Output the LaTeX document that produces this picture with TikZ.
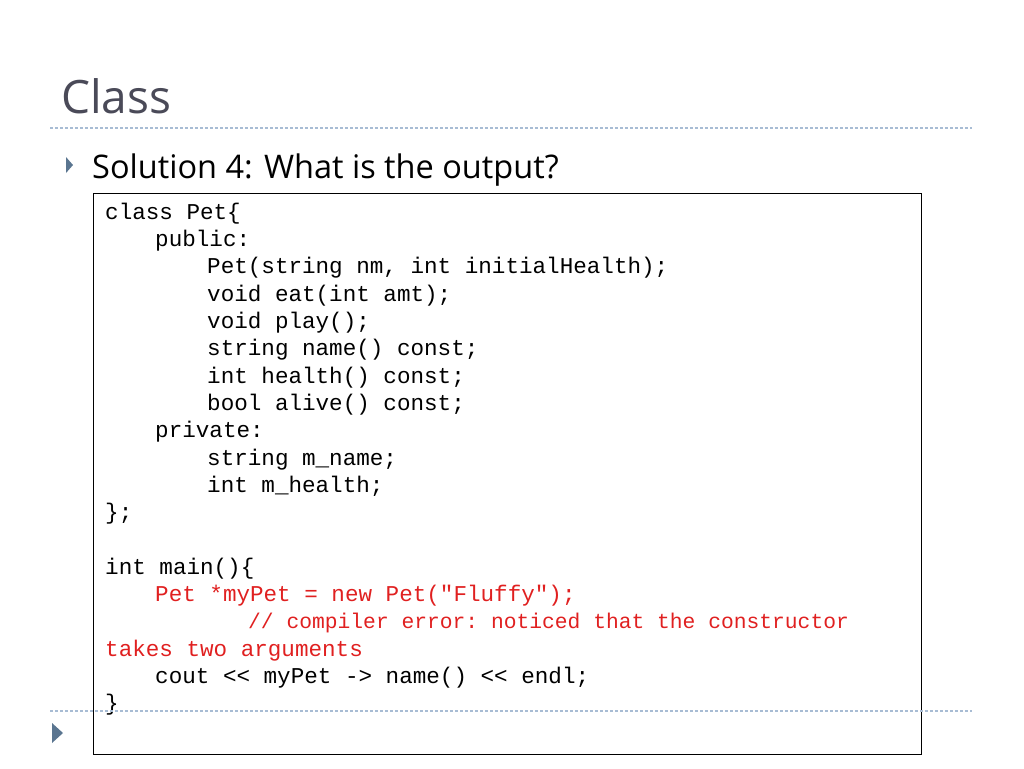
\documentclass[tikz,border=0pt]{standalone}
\usepackage{fontspec}
\setmainfont{Open Sans}
\setmonofont{Liberation Mono}
\definecolor{titlegray}{HTML}{4A4A58}
\definecolor{dashblue}{HTML}{A8BCD4}
\definecolor{bullet}{HTML}{5A7590}
\definecolor{codered}{HTML}{E02020}
\begin{document}
\begin{tikzpicture}[x=1pt,y=-1pt,
  code/.style={anchor=base west,inner sep=0,font=\fontsize{22.6}{24}\ttfamily},
  red/.style={code,text=codered},
  sep/.style={draw=dashblue,line width=1.2pt,dash pattern=on 3pt off 2pt}]
\useasboundingbox (0,0) rectangle (1024,768);
\node[anchor=base west,inner sep=0,text=titlegray,font=\fontsize{46}{50}\selectfont] (title) at (61,113) {Class};
\coordinate (s1a) at (50,128); \coordinate (s1b) at (972,128);
\draw[sep] (s1a) -- (s1b);
\fill[bullet] (66,157) -- (73,165) -- (66,173) -- cycle;
\node[anchor=base west,inner sep=0,font=\fontsize{32.5}{36}\selectfont] (sol) at (92,178) {Solution 4: What is the output?};
\node[draw,line width=1.2pt,minimum width=828,minimum height=561,anchor=north west,inner sep=0] (box) at (93,193) {};
\node[code] (l1) at (105,219) {class Pet\{};
\node[code] (l2) at (155,246) {public:};
\node[code] (l3) at (207,273) {Pet(string nm, int initialHealth);};
\node[code] (l4) at (207,301) {void eat(int amt);};
\node[code] (l5) at (207,328) {void play();};
\node[code] (l6) at (207,355) {string name() const;};
\node[code] (l7) at (207,383) {int health() const;};
\node[code] (l8) at (207,410) {bool alive() const;};
\node[code] (l9) at (155,437) {private:};
\node[code] (l10) at (207,465) {string m\_name;};
\node[code] (l11) at (207,492) {int m\_health;};
\node[code] (l12) at (105,519) {\};};
\node[code] (l13) at (105,574) {int main()\{};
\node[red] (l14) at (155,601) {Pet *myPet = new Pet("Fluffy");};
\node[red,font=\fontsize{21.3}{24}\ttfamily] (l15) at (248,628) {// compiler error: noticed that the constructor};
\node[red] (l16) at (105,656) {takes two arguments};
\node[code] (l17) at (155,683) {cout << myPet -> name() << endl;};
\node[code] (l18) at (105,710) {\}};
\coordinate (s2a) at (50,711); \coordinate (s2b) at (972,711);
\draw[sep] (s2a) -- (s2b);
\fill[bullet] (52,723) -- (63,733) -- (52,743) -- cycle;
\end{tikzpicture}
\end{document}
